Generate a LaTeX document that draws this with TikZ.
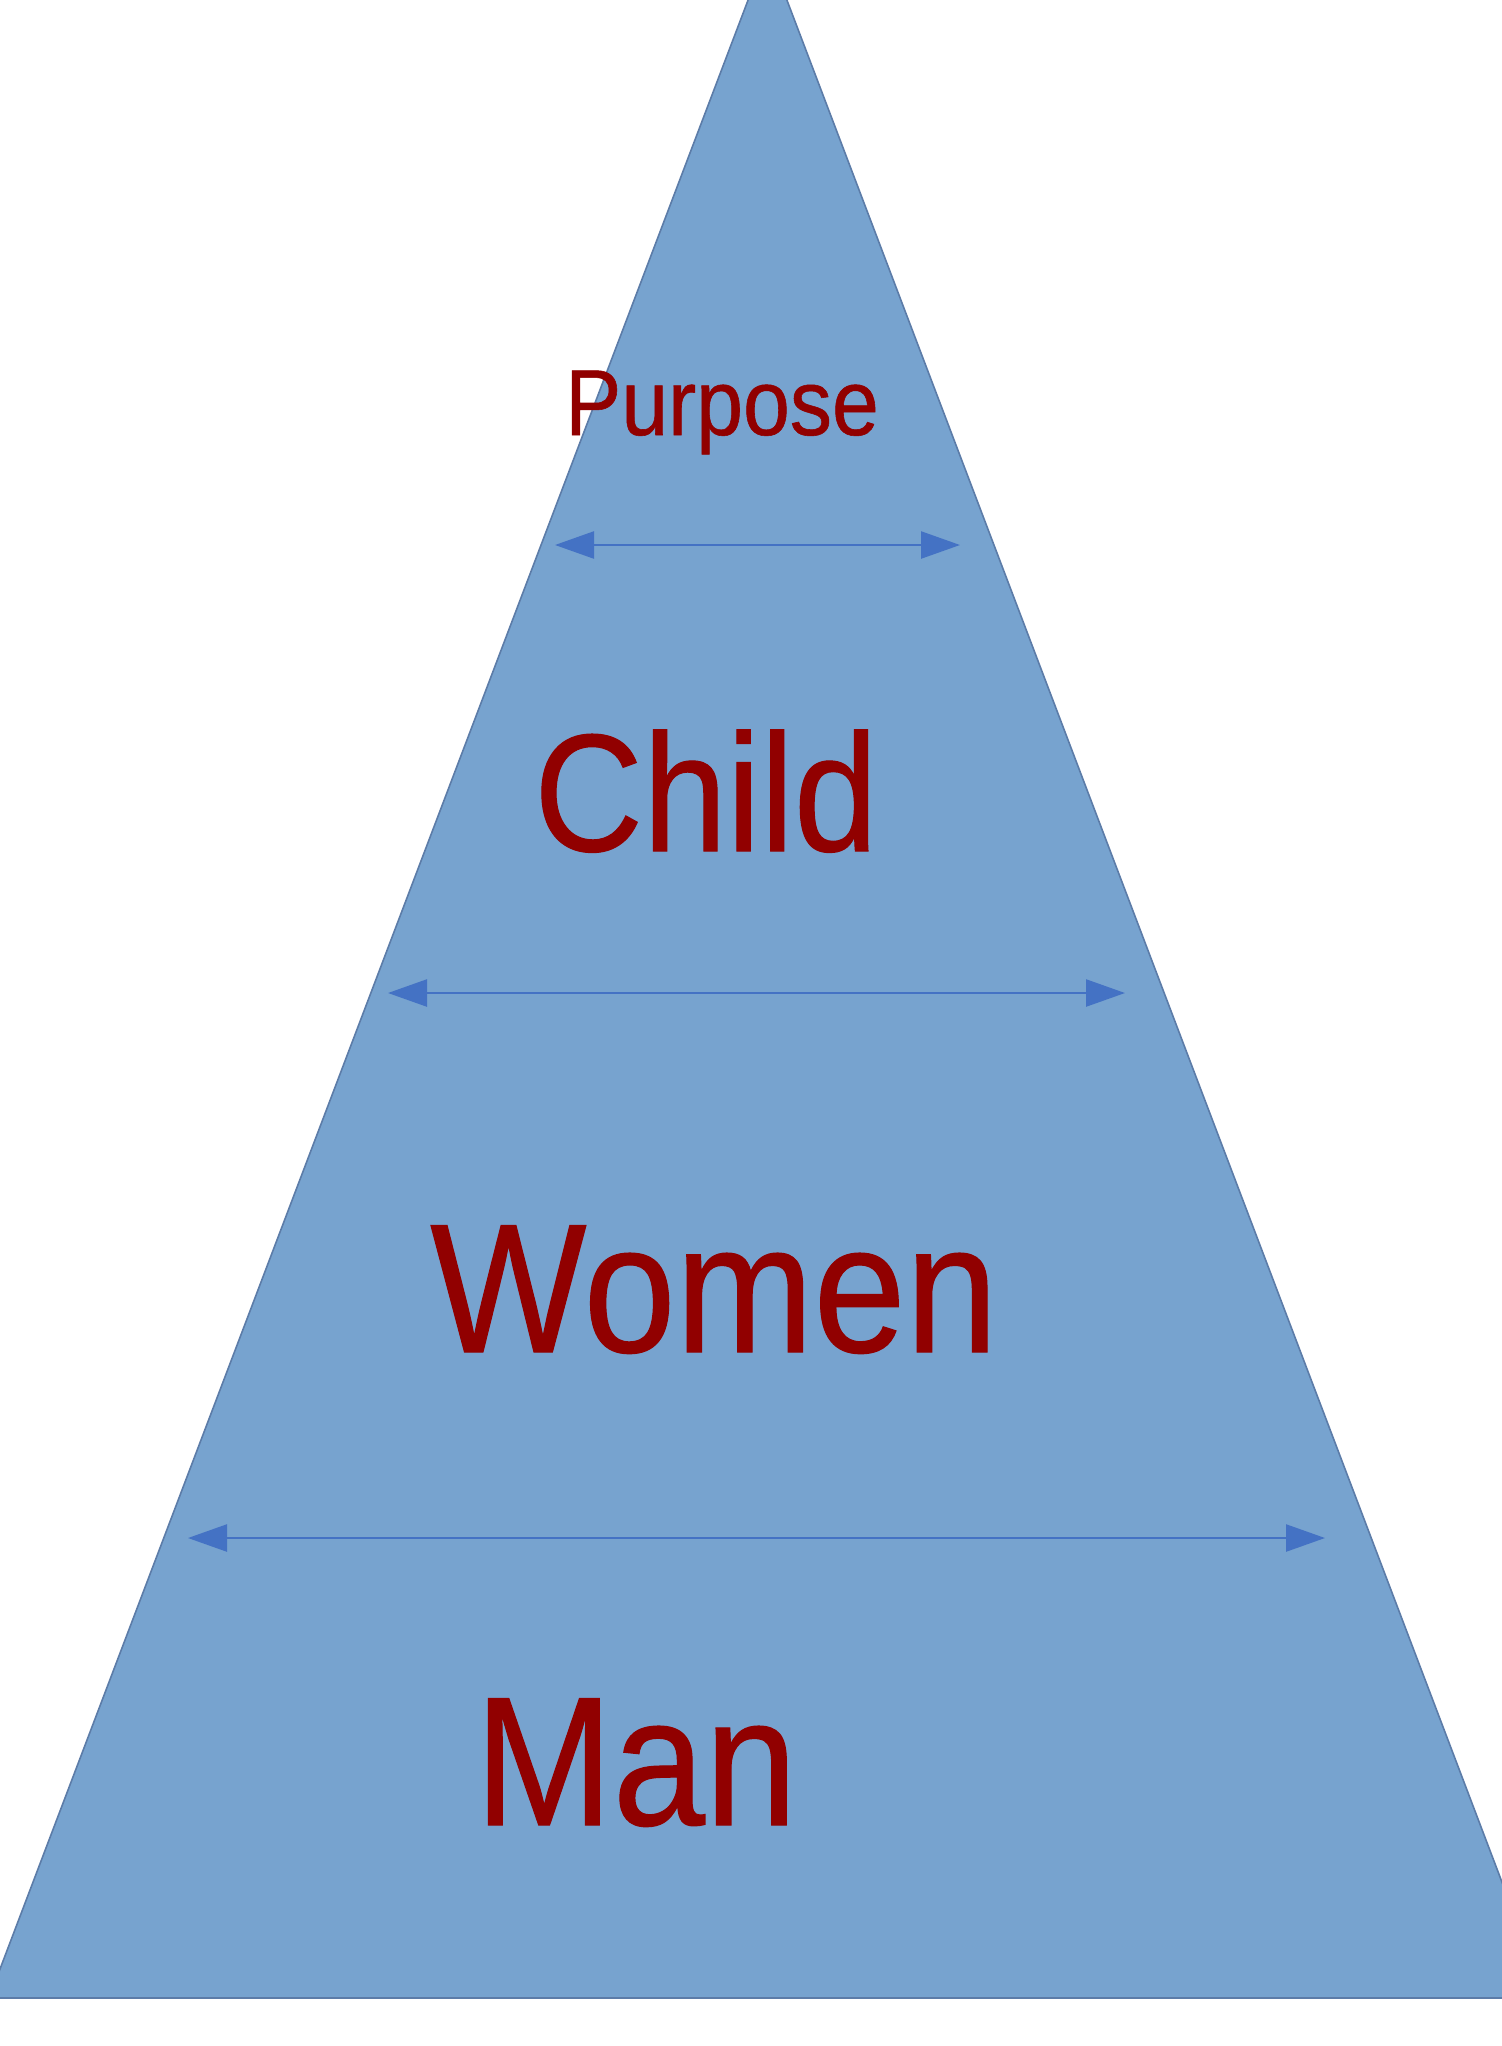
\documentclass[tikz,border=0pt]{standalone}
\usepackage{fontspec}
\setmainfont{Liberation Sans}[FakeStretch=0.9, FakeBold=0.6]
\usetikzlibrary{arrows.meta}
\definecolor{pyramidfill}{RGB}{119,163,207}
\definecolor{pyramidline}{RGB}{92,124,168}
\definecolor{arrowblue}{RGB}{68,114,196}
\definecolor{labelred}{RGB}{145,0,0}
\newcommand{\labelsize}[1]{\fontsize{#1pt}{#1pt}\selectfont}

\begin{document}
\begin{tikzpicture}[
    x=0.5pt, y=-0.5pt,
    level label/.style={text=labelred, inner sep=0pt, anchor=base},
    span/.style={arrowblue, line width=1.2pt,
        {Triangle[length=19.5pt,width=13.5pt]}-{Triangle[length=19.5pt,width=13.5pt]}}
]
    \useasboundingbox (0,0) rectangle (1502,2046);
    \fill[white] (0,0) rectangle (1502,2046);

    % Pyramid
    \begin{scope}
        \clip (0,0) rectangle (1502,2046);
        \filldraw[fill=pyramidfill, draw=pyramidline, line width=0.8pt]
            (767.5,-51) -- (1546,1998) -- (-11,1998) -- cycle;
    \end{scope}

    % Level labels
    \node[level label, font=\labelsize{46.8}] (purpose) at (722,435) {Purpose};
    \node[level label, font=\labelsize{83.8}] (child) at (706,851) {Child};
    \node[level label, font=\labelsize{92}] (women) at (714,1352) {Women};
    \node[level label, font=\labelsize{92}] (man) at (636,1825) {Man};

    % Width arrows
    \coordinate (purpose left) at (555,545);
    \coordinate (purpose right) at (960,545);
    \coordinate (child left) at (388,993);
    \coordinate (child right) at (1125,993);
    \coordinate (women left) at (188,1538);
    \coordinate (women right) at (1325,1538);

    \draw[span] (purpose left) -- (purpose right);
    \draw[span] (child left) -- (child right);
    \draw[span] (women left) -- (women right);
\end{tikzpicture}
\end{document}
